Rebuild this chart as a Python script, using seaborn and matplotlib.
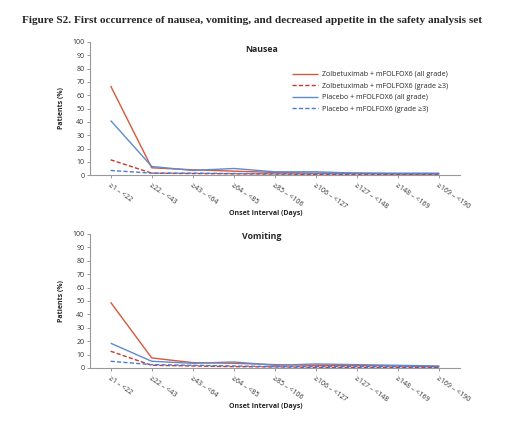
import numpy as np
import pandas as pd
import matplotlib
matplotlib.use("Agg")
import matplotlib.pyplot as plt
import seaborn as sns

sns.set_style("ticks")
plt.rcParams['font.family'] = ['Open Sans', 'DejaVu Sans']

# onset intervals (days)
intervals = ["≥1 – <22", "≥22 – <43", "≥43 – <64", "≥64 – <85", "≥85 – <106",
             "≥106 – <127", "≥127 – <148", "≥148 – <169", "≥169 – <190"]

series_names = ["Zolbetuximab + mFOLFOX6 (all grade)",
                "Zolbetuximab + mFOLFOX6 (grade ≥3)",
                "Placebo + mFOLFOX6 (all grade)",
                "Placebo + mFOLFOX6 (grade ≥3)"]

# Nausea, patients (%)
nausea_zolb_all = [67, 5.5, 4, 3, 2, 1.5, 1.5, 1, 1]
nausea_zolb_g3 = [11.5, 1.5, 1.2, 1, 0.8, 0.5, 0.5, 0.3, 0.3]
nausea_plac_all = [41, 6.5, 3.5, 5, 2.5, 2.5, 1.5, 1.5, 1.5]
nausea_plac_g3 = [3.5, 1.5, 1.5, 1.2, 1, 1, 1, 1, 1]

# Vomiting, patients (%)
vomit_zolb_all = [49, 7.5, 4, 3.5, 2.5, 2, 2, 1.5, 1]
vomit_zolb_g3 = [12.5, 2, 1.5, 1, 0.8, 0.5, 0.5, 0.3, 0.3]
vomit_plac_all = [18.5, 5, 3.5, 4.5, 2, 3, 2.5, 2, 1.5]
vomit_plac_g3 = [5, 2.5, 2, 1.5, 1, 1, 1, 1, 1]

colors = ["#D5583E", "#C8382A", "#5E8BD0", "#4A7AD6"]
dashes = [(1, 0), (3, 1.6), (1, 0), (3, 1.6)]


def long_df(values):
    rows = []
    for name, vals in zip(series_names, values):
        for iv, v in zip(intervals, vals):
            rows.append({"interval": iv, "pct": v, "series": name})
    return pd.DataFrame(rows)


fig = plt.figure(figsize=(5.12, 4.22), dpi=100)
fig.text(0.043, 0.952, "Figure S2. First occurrence of nausea, vomiting, and decreased appetite in the safety analysis set",
         fontsize=8.1, fontweight='bold', family=['Liberation Serif', 'DejaVu Serif'], va='center')

ax1 = fig.add_axes([0.176, 0.585, 0.722, 0.3155])
ax2 = fig.add_axes([0.176, 0.128, 0.722, 0.3175])

panels = [
    (ax1, "Nausea", [nausea_zolb_all, nausea_zolb_g3, nausea_plac_all, nausea_plac_g3], 0.94, True),
    (ax2, "Vomiting", [vomit_zolb_all, vomit_zolb_g3, vomit_plac_all, vomit_plac_g3], 0.985, False),
]

for ax, title, vals, ty, show_leg in panels:
    df = long_df(vals)
    sns.lineplot(data=df, x="interval", y="pct", hue="series", style="series",
                 palette=colors, dashes=dashes, sort=False, linewidth=1.0,
                 legend=show_leg, ax=ax)
    ax.set_xlim(-0.5, len(intervals) - 0.5)
    ax.set_ylim(0, 100)
    ax.set_yticks(np.arange(0, 101, 10))
    ax.set_xticks(range(len(intervals)))
    ax.set_xticklabels(intervals, rotation=-35, ha='left', rotation_mode='anchor', fontsize=5, color='#333333')
    ax.tick_params(axis='y', labelsize=5, labelcolor='#333333', length=2.5, width=0.6, color='#888888', pad=1.5)
    ax.tick_params(axis='x', length=2.5, width=0.6, color='#888888', pad=2.5)
    for s in ['top', 'right']:
        ax.spines[s].set_visible(False)
    for s in ['left', 'bottom']:
        ax.spines[s].set_color('#999999')
        ax.spines[s].set_linewidth(0.8)
    ax.set_xlabel("Onset Interval (Days)", fontsize=5, fontweight='bold', labelpad=6)
    ax.xaxis.set_label_coords(0.475, -0.26)
    ax.set_ylabel("Patients (%)", fontsize=5, fontweight='bold', labelpad=5)
    ax.text(0.465, ty, title, transform=ax.transAxes, ha='center', va='center',
            fontsize=6.3, fontweight='bold')
    if show_leg:
        leg = ax.legend(loc='upper left', bbox_to_anchor=(0.53, 0.83), frameon=False,
                        fontsize=5.1, handlelength=3.6, handletextpad=0.6, labelspacing=0.65)
        for line in leg.get_lines():
            line.set_linewidth(1.0)

fig.savefig("out.png", dpi=100)
